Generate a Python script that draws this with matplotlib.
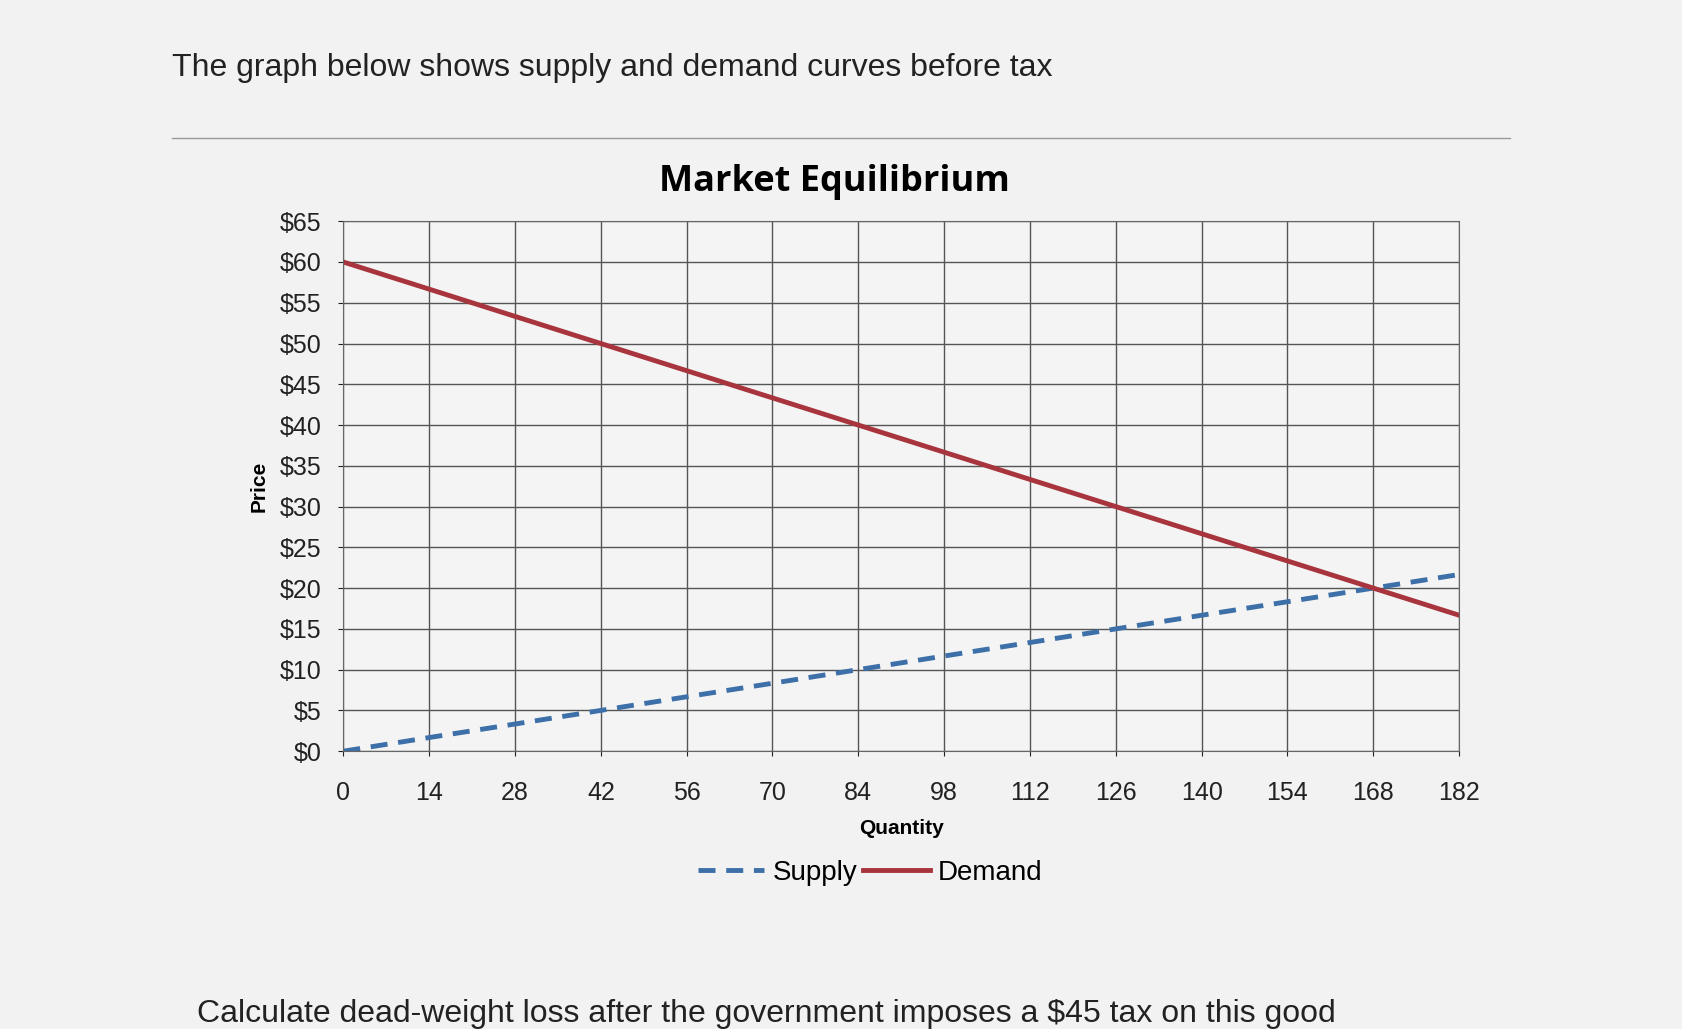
import matplotlib
matplotlib.use("Agg")
import matplotlib.pyplot as plt
from matplotlib.ticker import FuncFormatter

quantity = [0, 14, 28, 42, 56, 70, 84, 98, 112, 126, 140, 154, 168, 182]
demand = [60, 56.67, 53.33, 50, 46.67, 43.33, 40, 36.67, 33.33, 30, 26.67, 23.33, 20, 16.67]
supply = [0, 1.67, 3.33, 5, 6.67, 8.33, 10, 11.67, 13.33, 15, 16.67, 18.33, 20, 21.67]
price_ticks = list(range(0, 66, 5))

plt.rcParams['font.family'] = ['Liberation Sans', 'DejaVu Sans']
fig = plt.figure(figsize=(16.83, 10.29), dpi=100, facecolor='#f2f2f2')
fig.text(0.102, 0.934, "The graph below shows supply and demand curves before tax", fontsize=23, color='#222', va='center')
fig.add_artist(plt.Line2D([0.102, 0.897], [0.866, 0.866], color='#999', lw=1))
fig.text(0.496, 0.823, "Market Equilibrium", fontsize=26, fontweight='bold', ha='center', va='center', family=['Open Sans', 'DejaVu Sans'])

ax = fig.add_axes([0.204, 0.27, 0.663, 0.515])
ax.set_facecolor('#f4f4f4')
ax.plot(quantity, supply, color='#3d6fa8', lw=3.5, ls=(0, (3.5, 2.2)), label='Supply')
ax.plot(quantity, demand, color='#a8353d', lw=3.5, label='Demand')
ax.set_xlim(0, 182)
ax.set_ylim(0, 65)
ax.set_xticks(quantity)
ax.set_yticks(price_ticks)
ax.yaxis.set_major_formatter(FuncFormatter(lambda v, p: f"${int(v)}"))
ax.grid(True, color='#555', lw=1)
ax.tick_params(labelsize=18, colors='#222')
ax.tick_params(axis='x', pad=18)
ax.tick_params(axis='y', pad=12)
for s in ax.spines.values():
    s.set_color('#666')
ax.set_xlabel("Quantity", fontsize=15, fontweight='bold', labelpad=10)
ax.set_ylabel("Price", fontsize=15, fontweight='bold', labelpad=8)
fig.legend(loc='center', bbox_to_anchor=(0.517, 0.152), ncol=2, frameon=False, fontsize=20,
           handlelength=2.4, columnspacing=0.2, handletextpad=0.3)
fig.text(0.117, 0.015, "Calculate dead-weight loss after the government imposes a $45 tax on this good", fontsize=23, color='#222', va='center')
fig.savefig("out.png", dpi=100, facecolor=fig.get_facecolor())
